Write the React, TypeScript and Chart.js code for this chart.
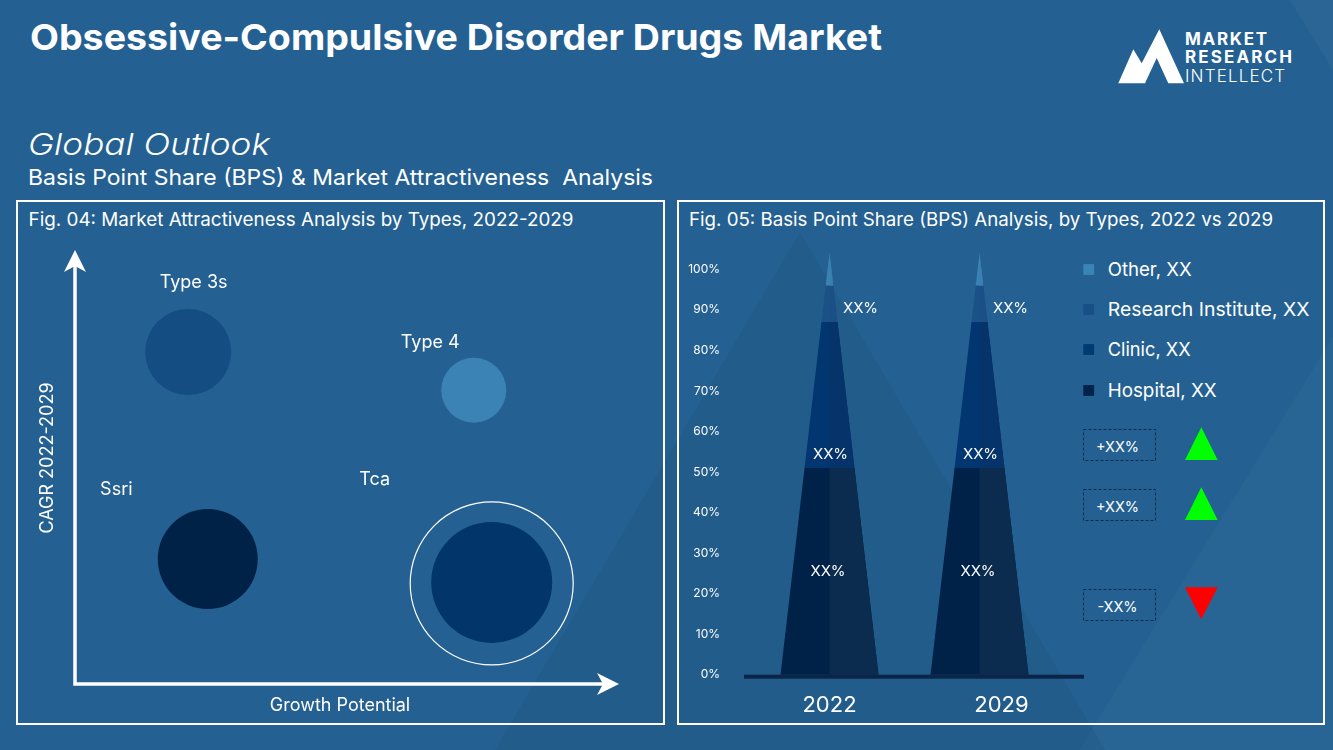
import React, { useEffect, useRef } from "react";
import { Chart, registerables } from "chart.js";

Chart.register(...registerables);

const FONT = "Inter, 'Open Sans', sans-serif";
const BG = "#246192";

// ---------- Fig. 04 : Market attractiveness (bubble) ----------
const typeNames = ["Type 3s", "Type 4", "Ssri", "Tca"];
const growthPotential = [20.8, 73.3, 24.4, 76.6];
const cagrValues = [76.5, 67.7, 28.8, 23.4];
const marketSize = [43, 32.5, 50, 60.5];
const typeColors = ["#144d82", "#3b83b4", "#012247", "#02356a"];
const labelGrowth = [21.8, 65.3, 7.6, 55.1];
const labelCagr = [92.4, 78.6, 44.9, 47.0];
const highlightedType = "Tca";

// ---------- Fig. 05 : Basis point share (pyramids) ----------
const years = ["2022", "2029"];
const segmentNames = ["Hospital", "Clinic", "Research Institute", "Other"];
const hospitalShare = [51, 51];
const clinicShare = [36, 36];
const researchShare = [9, 9];
const otherShare = [8, 8];
const segmentColors = ["#012248", "#013670", "#1a5287", "#3a82b4"];
const segmentShades = ["#0b2b4f", "#06346a", "#1b5086", "#3b7fb0"];
const segmentLabels = ["XX%", "XX%", "XX%", ""];
const legendLabels = ["Other, XX", "Research Institute, XX", "Clinic, XX", "Hospital, XX"];
const legendColors = ["#3a85b7", "#174f86", "#003a72", "#01234a"];
const changeLabels = ["+XX%", "+XX%", "-XX%"];
const changeDirections = ["up", "up", "down"];

function arrowHead(ctx: CanvasRenderingContext2D, x: number, y: number, dir: "up" | "right") {
  ctx.beginPath();
  if (dir === "up") {
    ctx.moveTo(x, y);
    ctx.lineTo(x + 11, y + 22);
    ctx.lineTo(x, y + 16);
    ctx.lineTo(x - 11, y + 22);
  } else {
    ctx.moveTo(x, y);
    ctx.lineTo(x - 22, y - 11);
    ctx.lineTo(x - 16, y);
    ctx.lineTo(x - 22, y + 11);
  }
  ctx.closePath();
  ctx.fill();
}

const bubbleDecor = {
  id: "bubbleDecor",
  beforeDatasetsDraw(chart: any) {
    const { ctx, chartArea: a } = chart;
    ctx.save();
    ctx.strokeStyle = "#ffffff";
    ctx.fillStyle = "#ffffff";
    ctx.lineWidth = 3.5;
    ctx.lineCap = "square";
    ctx.beginPath();
    ctx.moveTo(a.left, a.bottom);
    ctx.lineTo(a.left, a.top + 14);
    ctx.moveTo(a.left, a.bottom);
    ctx.lineTo(a.right - 14, a.bottom);
    ctx.stroke();
    arrowHead(ctx, a.left, a.top, "up");
    arrowHead(ctx, a.right, a.bottom, "right");
    ctx.font = `18px ${FONT}`;
    ctx.textAlign = "center";
    ctx.textBaseline = "middle";
    ctx.fillText("Growth Potential", a.left + 265, a.bottom + 22);
    ctx.save();
    ctx.translate(a.left - 27, a.top + 208);
    ctx.rotate(-Math.PI / 2);
    ctx.fillText("CAGR 2022-2029", 0, 0);
    ctx.restore();
    ctx.restore();
  },
  afterDatasetsDraw(chart: any) {
    const { ctx } = chart;
    const xs = chart.scales.x;
    const ys = chart.scales.y;
    const meta = chart.getDatasetMeta(0);
    ctx.save();
    typeNames.forEach((name, i) => {
      if (name === highlightedType) {
        const el = meta.data[i];
        ctx.strokeStyle = "#ffffff";
        ctx.lineWidth = 1.2;
        ctx.beginPath();
        ctx.arc(el.x, el.y + 1, marketSize[i] + 21, 0, Math.PI * 2);
        ctx.stroke();
      }
      ctx.fillStyle = "#ffffff";
      ctx.font = `18px ${FONT}`;
      ctx.textAlign = "center";
      ctx.textBaseline = "middle";
      ctx.fillText(name, xs.getPixelForValue(labelGrowth[i]), ys.getPixelForValue(labelCagr[i]));
    });
    ctx.restore();
  },
};

const pyramidLabelAnchor = [0.5, 0.09, 0.37, 0];
const pyramidLabelShift = [-1.5, 1, 31, 0];
const yearLabelShift = [0, 22];

const pyramidDraw = {
  id: "pyramidDraw",
  afterDatasetsDraw(chart: any) {
    const { ctx, chartArea: a } = chart;
    const ys = chart.scales.y;
    const sets = chart.data.datasets;
    const meta0 = chart.getDatasetMeta(0);
    ctx.save();
    ctx.fillStyle = "#0b2447";
    ctx.fillRect(a.left - 10.5, ys.getPixelForValue(0), a.right - a.left + 40, 4);
    years.forEach((year, j) => {
      const el = meta0.data[j];
      const cx = el.x;
      const half = el.width / 2;
      const total = sets.reduce((s: number, d: any) => s + d.data[j], 0);
      const y0 = ys.getPixelForValue(0);
      const yApex = ys.getPixelForValue(total);
      const halfAt = (py: number) => (half * (py - yApex)) / (y0 - yApex);
      let lo = 0;
      sets.forEach((d: any, i: number) => {
        const hi = lo + d.data[j];
        const yl = ys.getPixelForValue(lo);
        const yh = ys.getPixelForValue(hi);
        const wl = halfAt(yl);
        const wh = Math.max(0, halfAt(yh));
        ctx.fillStyle = segmentColors[i];
        ctx.beginPath();
        ctx.moveTo(cx - wl, yl);
        ctx.lineTo(cx + wl, yl);
        ctx.lineTo(cx + wh, yh);
        ctx.lineTo(cx - wh, yh);
        ctx.closePath();
        ctx.fill();
        ctx.fillStyle = segmentShades[i];
        ctx.beginPath();
        ctx.moveTo(cx, yl);
        ctx.lineTo(cx + wl, yl);
        ctx.lineTo(cx + wh, yh);
        ctx.lineTo(cx, yh);
        ctx.closePath();
        ctx.fill();
        lo = hi;
      });
      lo = 0;
      ctx.fillStyle = "#ffffff";
      ctx.font = `15px ${FONT}`;
      ctx.textAlign = "center";
      ctx.textBaseline = "middle";
      sets.forEach((d: any, i: number) => {
        const v = d.data[j];
        if (segmentLabels[i]) {
          const yv = ys.getPixelForValue(lo + v * pyramidLabelAnchor[i]);
          ctx.fillText(segmentLabels[i], cx + pyramidLabelShift[i], yv);
        }
        lo += v;
      });
      ctx.font = `22px ${FONT}`;
      ctx.fillText(year, cx + yearLabelShift[j], a.bottom + 31);
    });
    ctx.restore();
  },
};

function bubbleConfig(): any {
  return {
    type: "bubble",
    data: {
      datasets: [
        {
          label: "Types",
          data: typeNames.map((_, i) => ({ x: growthPotential[i], y: cagrValues[i], r: marketSize[i] })),
          backgroundColor: typeColors,
          borderWidth: 0,
          hoverRadius: 0,
          clip: false,
        },
      ],
    },
    options: {
      responsive: false,
      animation: false,
      devicePixelRatio: 1,
      events: [],
      layout: { autoPadding: false, padding: { left: 56, right: 43, top: 10, bottom: 38 } },
      scales: {
        x: { display: false, min: 0, max: 100 },
        y: { display: false, min: 0, max: 100 },
      },
      plugins: { legend: { display: false }, tooltip: { enabled: false } },
    },
    plugins: [bubbleDecor],
  };
}

function bpsConfig(): any {
  const values = [hospitalShare, clinicShare, researchShare, otherShare];
  return {
    type: "bar",
    data: {
      labels: years,
      datasets: segmentNames.map((name, i) => ({
        label: name,
        data: values[i],
        backgroundColor: "rgba(0,0,0,0)",
        borderWidth: 0,
        categoryPercentage: 1,
        barPercentage: 0.653,
      })),
    },
    options: {
      responsive: false,
      animation: false,
      devicePixelRatio: 1,
      events: [],
      layout: { autoPadding: false, padding: { left: 0, right: 34.5, top: 29.3, bottom: 45.3 } },
      scales: {
        x: { display: false, stacked: true },
        y: {
          stacked: true,
          min: 0,
          max: 100,
          afterFit: (scale: any) => {
            scale.width = 75.5;
            scale.paddingTop = 0;
            scale.paddingBottom = 0;
          },
          ticks: {
            stepSize: 10,
            padding: 34.5,
            color: "#ffffff",
            font: { family: FONT, size: 12 },
            callback: (v: any) => `${v}%`,
          },
          grid: { display: false, drawTicks: false },
          border: { display: false },
        },
      },
      plugins: { legend: { display: false }, tooltip: { enabled: false } },
    },
    plugins: [pyramidDraw],
  };
}

export default function App() {
  const bubbleRef = useRef<HTMLCanvasElement>(null);
  const bpsRef = useRef<HTMLCanvasElement>(null);

  useEffect(() => {
    let cancelled = false;
    const charts: Chart[] = [];
    const build = () => {
      if (cancelled || !bubbleRef.current || !bpsRef.current) return;
      charts.push(new Chart(bubbleRef.current, bubbleConfig()));
      charts.push(new Chart(bpsRef.current, bpsConfig()));
    };
    Promise.all([
      document.fonts.load(`18px Inter`),
      document.fonts.load(`bold 18px Inter`),
    ]).then(build, build);
    return () => {
      cancelled = true;
      charts.forEach((c) => c.destroy());
    };
  }, []);

  const white = "#ffffff";
  const legendY = [269.5, 309.5, 349.5, 390.5];
  const legendW = [84, 201.7, 83, 109];
  const boxY = [429.5, 489.5, 589.5];

  return (
    <div
      style={{
        position: "absolute",
        left: 0,
        top: 0,
        width: 1333,
        height: 750,
        overflow: "hidden",
        background: BG,
        fontFamily: FONT,
      }}
    >
      <svg width={1333} height={750} style={{ position: "absolute", left: 0, top: 0 }}>
        <rect x={0} y={0} width={1333} height={750} fill={BG} />
        <polygon points="800,232 495,750 1105,750" fill="rgba(4,24,58,0.07)" />
        <polygon points="1386,250 1079,750 1333,750" fill="rgba(255,255,255,0.02)" />
        <polygon points="1290,0 1333,0 1333,70" fill="rgba(255,255,255,0.03)" />

        <text x={30} y={49.5} fill={white} fontSize={36} fontWeight={700} textLength={852} lengthAdjust="spacingAndGlyphs">
          Obsessive-Compulsive Disorder Drugs Market
        </text>
        <text x={28} y={155} fill={white} fontSize={30} fontStyle="italic" fontWeight={300} textLength={242} lengthAdjust="spacingAndGlyphs">
          Global Outlook
        </text>
        <text x={28} y={185} fill={white} fontSize={22} textLength={625} lengthAdjust="spacingAndGlyphs" style={{ whiteSpace: "pre" }}>
          {"Basis Point Share (BPS) & Market Attractiveness  Analysis"}
        </text>

        <polygon
          points="1118.3,83.3 1133.3,49.3 1141.7,63.3 1159.3,29.3 1184,83.3 1168.3,83.3 1156.7,58 1145,83.3"
          fill={white}
        />
        <text x={1185} y={45} fill={white} fontSize={17} fontWeight={700} textLength={82} lengthAdjust="spacing">
          MARKET
        </text>
        <text x={1185} y={63.3} fill={white} fontSize={17} fontWeight={700} textLength={107} lengthAdjust="spacing">
          RESEARCH
        </text>
        <text x={1185} y={81.7} fill={white} fontSize={17} fontWeight={300} textLength={100} lengthAdjust="spacing">
          INTELLECT
        </text>

        <rect x={17} y={201} width={647} height={523} fill="none" stroke={white} strokeWidth={2} />
        <rect x={678} y={201} width={646} height={523} fill="none" stroke={white} strokeWidth={2} />
        <text x={28.5} y={226} fill={white} fontSize={18.5} textLength={545} lengthAdjust="spacingAndGlyphs">
          Fig. 04: Market Attractiveness Analysis by Types, 2022-2029
        </text>
        <text x={689} y={226} fill={white} fontSize={18.5} textLength={584} lengthAdjust="spacingAndGlyphs">
          Fig. 05: Basis Point Share (BPS) Analysis, by Types, 2022 vs 2029
        </text>

        {legendLabels.map((l, i) => (
          <g key={l}>
            <rect x={1083.3} y={legendY[i] - 5.4} width={10.8} height={10.8} fill={legendColors[i]} />
            <text x={1107.7} y={legendY[i] + 6.5} fill={white} fontSize={19} textLength={legendW[i]} lengthAdjust="spacingAndGlyphs">
              {l}
            </text>
          </g>
        ))}

        {changeLabels.map((l, i) => (
          <g key={i}>
            <rect x={1083.5} y={boxY[i]} width={72} height={31} fill="none" stroke="#0d2a50" strokeWidth={1} strokeDasharray="3 2" />
            <text x={1117.5} y={boxY[i] + 22} fill={white} fontSize={14.5} textAnchor="middle">
              {l}
            </text>
            {changeDirections[i] === "up" ? (
              <polygon
                points={`1201.3,${boxY[i] - 2.2} 1217.7,${boxY[i] + 30.5} 1185,${boxY[i] + 30.5}`}
                fill="#00ff00"
              />
            ) : (
              <polygon
                points={`1185,${boxY[i] - 2.2} 1217.7,${boxY[i] - 2.2} 1201.3,${boxY[i] + 29.8}`}
                fill="#ff0000"
              />
            )}
          </g>
        ))}
      </svg>

      <canvas
        ref={bubbleRef}
        width={643}
        height={482}
        style={{ position: "absolute", left: 19, top: 240, width: 643, height: 482 }}
      />
      <canvas
        ref={bpsRef}
        width={410}
        height={480}
        style={{ position: "absolute", left: 679, top: 240, width: 410, height: 480 }}
      />
    </div>
  );
}
